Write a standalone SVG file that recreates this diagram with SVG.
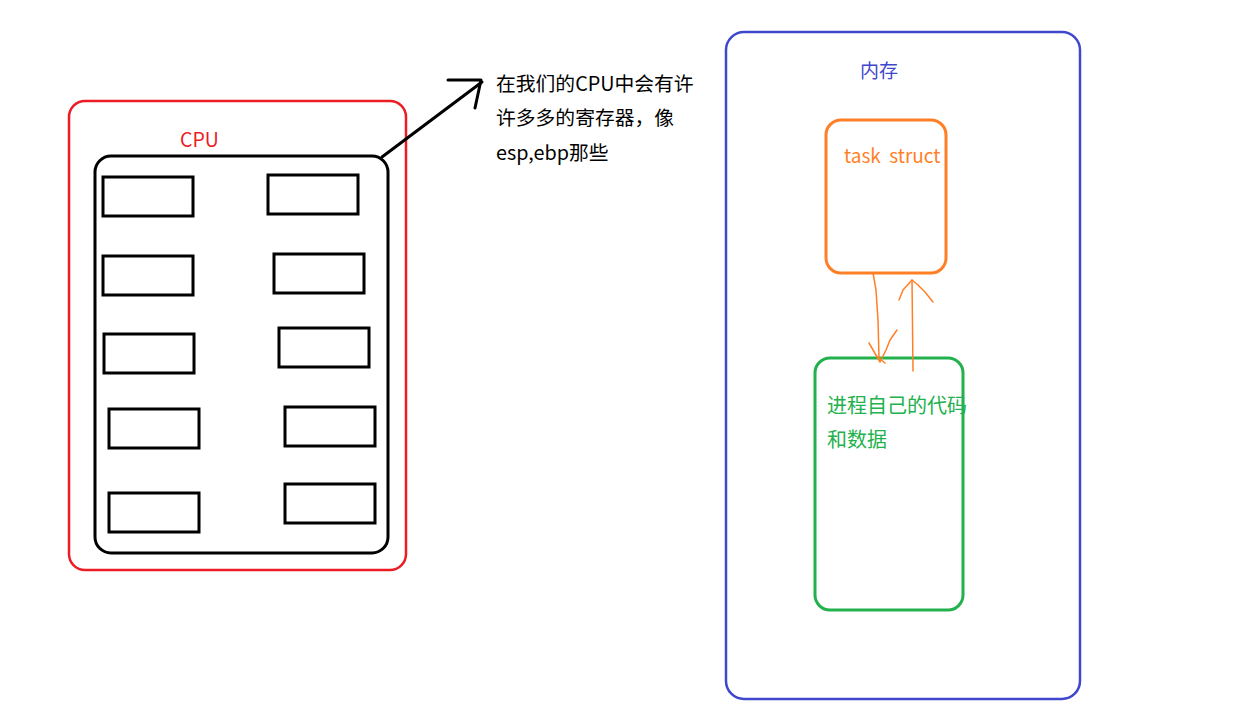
<svg xmlns="http://www.w3.org/2000/svg" width="1237" height="717" viewBox="0 0 1237 717">
<style>
.reg{fill:none;stroke:#000;stroke-width:3}
.t{font-family:"Microsoft YaHei","Noto Sans CJK SC","Liberation Sans",sans-serif}
</style>
<rect width="1237" height="717" fill="#fff"/>
<g id="cpu">
<rect x="69" y="101" width="337" height="469" rx="16" fill="none" stroke="#ED1C24" stroke-width="2.5"/>
<text class="t" x="180" y="147" font-size="19.5" fill="#ED1C24">CPU</text>
</g>
<g id="registers">
<rect x="95" y="156" width="293" height="397" rx="16" fill="none" stroke="#000" stroke-width="3"/>
<rect class="reg" x="103" y="177" width="90" height="39"/>
<rect class="reg" x="268" y="175" width="90" height="39"/>
<rect class="reg" x="103" y="256" width="90" height="39"/>
<rect class="reg" x="274" y="254" width="90" height="39"/>
<rect class="reg" x="104" y="334" width="90" height="39"/>
<rect class="reg" x="279" y="328" width="90" height="39"/>
<rect class="reg" x="109" y="409" width="90" height="39"/>
<rect class="reg" x="285" y="407" width="90" height="39"/>
<rect class="reg" x="109" y="493" width="90" height="39"/>
<rect class="reg" x="285" y="484" width="90" height="39"/>
</g>
<g id="note">
<text class="t" font-size="19.8" fill="#000">
<tspan x="496" y="91">在我们的CPU中会有许</tspan>
<tspan x="496" y="125">许多多的寄存器，像</tspan>
<tspan x="496" y="160">esp,ebp那些</tspan>
</text>
</g>
<g id="memory">
<rect x="726" y="32" width="354" height="667" rx="18" fill="none" stroke="#3F48CC" stroke-width="2.5"/>
<text class="t" x="860" y="78" font-size="19" fill="#3F48CC">内存</text>
</g>
<g id="task_struct">
<rect x="826" y="120" width="120" height="153" rx="15" fill="none" stroke="#FF7F27" stroke-width="3"/>
<text class="t" x="844" y="163" font-size="19" fill="#FF7F27" style="white-space:pre">task  struct</text>
</g>
<g id="process_data">
<rect x="815" y="358" width="148" height="252" rx="15" fill="none" stroke="#22B14C" stroke-width="3"/>
<text class="t" font-size="20" fill="#22B14C">
<tspan x="827" y="413">进程自己的代码</tspan>
<tspan x="827" y="447">和数据</tspan>
</text>
</g>
<g id="connectors" fill="none" stroke-linecap="round" stroke-linejoin="round">
<path d="M382 157 L482 82" stroke="#000" stroke-width="3"/>
<path d="M448 80 L481 80 L475 108" stroke="#000" stroke-width="3"/>
<path d="M873 273 L876 290 L878 320 L879 358 L885 363" stroke="#FF7F27" stroke-width="1.5"/>
<path d="M869 343 L880 362 L886 350 L890 340 L897 330" stroke="#FF7F27" stroke-width="1.5"/>
<path d="M913 371 L912 280" stroke="#FF7F27" stroke-width="1.5"/>
<path d="M899 300 L903 290 L912 280 L918 285 L925 292 L933 302" stroke="#FF7F27" stroke-width="1.5"/>
</g>
</svg>
